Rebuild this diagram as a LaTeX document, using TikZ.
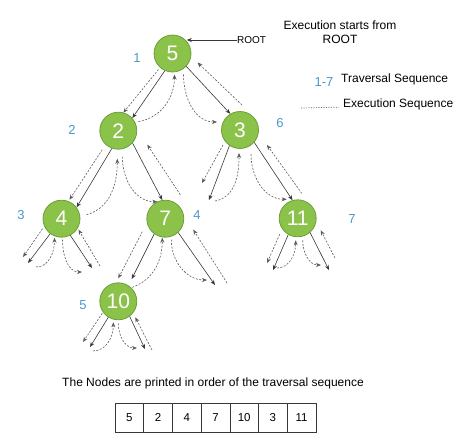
\documentclass[tikz,border=0pt]{standalone}
\usepackage{fontspec}
\setmainfont{Liberation Sans}
\usetikzlibrary{arrows.meta,calc,positioning}
\definecolor{nodegreen}{RGB}{139,195,74}
\definecolor{nodeedge}{RGB}{108,158,58}
\definecolor{seqblue}{RGB}{74,152,201}
\definecolor{linegray}{RGB}{55,55,55}
\definecolor{dashgray}{RGB}{90,90,90}
\tikzset{
  treenode/.style={circle, fill=nodegreen, draw=nodeedge, line width=0.8pt,
    minimum size=37pt, inner sep=0pt, text=white, font=\fontsize{21}{21}\selectfont},
  seqnum/.style={text=seqblue, inner sep=0pt, font=\fontsize{13}{13}\selectfont},
  infotext/.style={inner sep=0pt, font=\fontsize{12}{14}\selectfont},
  edgesolid/.style={draw=linegray, line width=0.6pt, -{Stealth[length=5pt,width=4pt]}},
  edgeexec/.style={draw=dashgray, line width=0.6pt, dash pattern=on 2pt off 1.5pt,
    -{Stealth[length=5pt,width=4pt]}},
  cell/.style={draw=linegray, line width=0.6pt, minimum width=28.71pt, minimum height=29pt,
    inner sep=0pt, outer sep=0pt, font=\fontsize{11.5}{11.5}\selectfont},
}
\begin{document}
\begin{tikzpicture}[x=1pt,y=1pt]
            \useasboundingbox (0,0) rectangle (474,-440);
            
            % Tree nodes
            \node[treenode] (n5) at (172.5,-53.5) {5};%
            \node[treenode] (n2) at (118.3,-130.7) {2};%
            \node[treenode] (n3) at (240,-130) {3};%
            \node[treenode] (n4) at (61.5,-218.7) {4};%
            \node[treenode] (n7) at (165.3,-218.7) {7};%
            \node[treenode] (n11) at (297.7,-218.3) {11};%
            \node[treenode] (n10) at (118.3,-301.3) {10};%
            
            % Empty children
            \coordinate (n3l) at (209,-200);%
            \coordinate (n4l) at (28,-263);%
            \coordinate (n4r) at (92,-268);%
            \coordinate (n7r) at (215,-285);%
            \coordinate (n11l) at (273,-270);%
            \coordinate (n11r) at (329,-270);%
            \coordinate (n10l) at (90,-347);%
            \coordinate (n10r) at (145,-349);%
            
            % Root pointer
            \node[infotext, font=\fontsize{10}{10}\selectfont, anchor=west] (root) at (237,-40) {ROOT};%
            \draw[edgesolid] (root.west) -- (root.west -| n5.41);%
            
            % Tree edges
            \draw[edgesolid] (n5.246) -- (n2.42);%
            \draw[edgesolid] (n5.317) -- (n3.121);%
            \draw[edgesolid] (n2.250) -- (n4.37);%
            \draw[edgesolid] (n2.319) -- (n7.99);%
            \draw[edgesolid] (n3.236) -- (n3l);%
            \draw[edgesolid] (n3.319) -- (n11.106);%
            \draw[edgesolid] (n4.233) -- (n4l);%
            \draw[edgesolid] (n4.298) -- (n4r);%
            \draw[edgesolid] (n7.234) -- ($(n10)+(59:26)$);%
            \draw[edgesolid] (n7.313) -- (n7r);%
            \draw[edgesolid] (n11.240) -- (n11l);%
            \draw[edgesolid] (n11.311) -- (n11r);%
            \draw[edgesolid] (n10.238) -- (n10l);%
            \draw[edgesolid] (n10.307) -- (n10r);%
            
            % Execution: going down left
            \draw[edgeexec] ($(n5)+(-14,-16)$) -- ($(n2)+(5,18)$);%
            \draw[edgeexec] ($(n2)+(-16,-19)$) -- ($(n4)+(8,19)$);%
            \draw[edgeexec] ($(n7)+(-23,-13)$) -- ($(n10)+(0,23)$);%
            \draw[edgeexec] ($(n3)+(-17,-15)$) -- ($(n3l)+(-7,17)$);%
            \draw[edgeexec] ($(n4)+(-19,-10)$) -- ($(n4l)+(-5,6)$);%
            \draw[edgeexec] ($(n11)+(-18,-16)$) -- ($(n11l)+(-6,7)$);%
            \draw[edgeexec] ($(n10)+(-16,-12)$) -- ($(n10l)+(-7,5)$);%
            
            % Execution: back up from left
            \draw[edgeexec] ($(n2)+(20,9)$) to[out=10,in=-90] ($(n5)+(2,-21)$);%
            \draw[edgeexec] ($(n4)+(25,4)$) to[out=15,in=-90] ($(n2)+(-1,-28)$);%
            \draw[edgeexec] ($(n10)+(14,14)$) to[out=20,in=-90] ($(n7)+(-3,-19)$);%
            \draw[edgeexec] ($(n3l)+(6,-1)$) to[out=10,in=-90] ($(n3)+(-1,-23)$);%
            \draw[edgeexec] ($(n4l)+(8,-4)$) to[out=0,in=-90] ($(n4)+(-7,-19)$);%
            \draw[edgeexec] ($(n11l)+(4,2)$) to[out=0,in=-90] ($(n11)+(-2,-22)$);%
            \draw[edgeexec] ($(n10l)+(3,-4)$) to[out=0,in=-90] ($(n10)+(-5,-21)$);%
            
            % Execution: going down right
            \draw[edgeexec] ($(n5)+(11,-21)$) to[out=-90,in=180] ($(n3)+(-23,8)$);%
            \draw[edgeexec] ($(n2)+(4,-26)$) to[out=-90,in=180] ($(n7)+(-8,17)$);%
            \draw[edgeexec] ($(n3)+(11,-24)$) to[out=-90,in=180] ($(n11)+(-11,19)$);%
            \draw[edgeexec] ($(n7)+(6,-21)$) to[out=-90,in=180] ($(n7r)+(-8,5)$);%
            \draw[edgeexec] ($(n4)+(1,-21)$) to[out=-90,in=180] ($(n4r)+(-10,-4)$);%
            \draw[edgeexec] ($(n11)+(5,-22)$) to[out=-90,in=180] ($(n11r)+(-8,5)$);%
            \draw[edgeexec] ($(n10)+(0,-22)$) to[out=-90,in=180] ($(n10r)+(-8,1)$);%
            
            % Execution: back up from right
            \draw[edgeexec] ($(n3)+(2,25)$) -- ($(n5)+(25,-9)$);%
            \draw[edgeexec] ($(n7)+(15,24)$) -- ($(n2)+(29,-14)$);%
            \draw[edgeexec] ($(n11)+(4,25)$) -- ($(n3)+(27,-15)$);%
            \draw[edgeexec] ($(n7r)+(12,2)$) -- ($(n7)+(28,-11)$);%
            \draw[edgeexec] ($(n4r)+(8,2)$) -- ($(n4)+(17,-11)$);%
            \draw[edgeexec] ($(n11r)+(6,12)$) -- ($(n11)+(23,-12)$);%
            \draw[edgeexec] ($(n10r)+(7,-1)$) -- ($(n10)+(17,-16)$);%
            
            % Traversal numbers
            \node[seqnum] (s1) at (137,-58) {1};%
            \node[seqnum] (s2) at (72,-130) {2};%
            \node[seqnum] (s3) at (21,-215) {3};%
            \node[seqnum] (s4) at (197,-215) {4};%
            \node[seqnum] (s5) at (83,-305) {5};%
            \node[seqnum] (s6) at (280,-123) {6};%
            \node[seqnum] (s7) at (352,-219) {7};%
            
            % Legend
            \node[infotext, align=center] (startnote) at (340,-32) {Execution starts from\\ROOT};%
            \node[seqnum] (s17) at (324,-82.5) {1-7};%
            \node[infotext, anchor=west] (travseq) at (341,-79) {Traversal Sequence};%
            \node[infotext, anchor=west] (execseq) at (343,-104) {Execution Sequence};%
            \coordinate (legdash) at (301,-108);%
            \draw[draw=dashgray, line width=0.7pt, dash pattern=on 1pt off 1.5pt] (legdash) -- ([xshift=-4pt]execseq.base west);%
            
            % Printed order
            \node[infotext] (caption) at (213,-383) {The Nodes are printed in order of the traversal sequence};%
            \node[cell, anchor=west] (c1) at (115,-417.5) {5};%
            \node[cell, right=0pt of c1] (c2) {2};%
            \node[cell, right=0pt of c2] (c3) {4};%
            \node[cell, right=0pt of c3] (c4) {7};%
            \node[cell, right=0pt of c4] (c5) {10};%
            \node[cell, right=0pt of c5] (c6) {3};%
            \node[cell, right=0pt of c6] (c7) {11};%
\end{tikzpicture}
\end{document}
